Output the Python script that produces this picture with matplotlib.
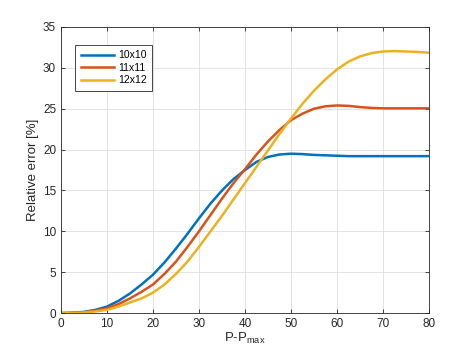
import numpy as np
import matplotlib
matplotlib.use('Agg')
import matplotlib.pyplot as plt

plt.rcParams['font.family'] = ['Liberation Sans', 'DejaVu Sans']
plt.rcParams['mathtext.default'] = 'regular'

# P-P_max values
p_vals = [0, 2.5, 5, 7.5, 10, 12.5, 15, 17.5, 20, 22.5, 25, 27.5, 30, 32.5, 35, 37.5,
          40, 42.5, 45, 47.5, 50, 52.5, 55, 57.5, 60, 62.5, 65, 67.5, 70, 72.5, 75, 77.5, 80]

err_10 = [0, 0.05, 0.15, 0.4, 0.8, 1.5, 2.4, 3.5, 4.7, 6.2, 7.9, 9.7, 11.6, 13.4, 15.0, 16.4,
          17.5, 18.5, 19.1, 19.4, 19.5, 19.45, 19.35, 19.3, 19.25, 19.2, 19.2, 19.2, 19.2,
          19.2, 19.2, 19.2, 19.2]
err_11 = [0, 0.03, 0.1, 0.3, 0.6, 1.1, 1.8, 2.6, 3.5, 4.8, 6.3, 8.1, 10.0, 12.0, 14.0, 15.9,
          17.6, 19.4, 21.0, 22.4, 23.6, 24.4, 25.0, 25.3, 25.4, 25.35, 25.2, 25.1, 25.05,
          25.05, 25.05, 25.05, 25.05]
err_12 = [0, 0.02, 0.07, 0.2, 0.4, 0.8, 1.3, 1.8, 2.5, 3.5, 4.8, 6.3, 8.1, 10.0, 11.9, 13.9,
          15.9, 17.9, 19.9, 21.9, 23.8, 25.6, 27.2, 28.6, 29.8, 30.75, 31.4, 31.8, 32.0,
          32.05, 32.0, 31.95, 31.85]

labels = ['10x10', '11x11', '12x12']
colors = ['#0072BD', '#D95319', '#EDB120']

fig = plt.figure(figsize=(4.74, 3.55), dpi=100)
ax = fig.add_axes([0.1287, 0.118, 0.7763, 0.806])

for y, lab, c in zip([err_10, err_11, err_12], labels, colors):
    ax.plot(p_vals, y, color=c, linewidth=1.8, label=lab)

ax.set_xlim(0, 80)
ax.set_ylim(0, 35)
ax.set_xticks(np.arange(0, 81, 10))
ax.set_yticks(np.arange(0, 36, 5))
ax.grid(True, color='#dedede', linewidth=0.6)
ax.set_axisbelow(True)
ax.tick_params(direction='in', top=True, right=True, length=3, width=0.6,
               colors='#262626', labelsize=8.5)
for s in ax.spines.values():
    s.set_color('#262626')
    s.set_linewidth(0.6)

ax.set_xlabel('P-P$_{max}$', fontsize=9.5, color='#262626', labelpad=1)
ax.set_ylabel('Relative error [%]', fontsize=9.5, color='#262626', labelpad=3)

leg = ax.legend(loc='upper left', bbox_to_anchor=(0.025, 0.955), fontsize=7.5,
                frameon=True, fancybox=False, edgecolor='#262626', framealpha=1,
                handlelength=3.2, borderpad=0.5, labelspacing=0.25, handletextpad=0.4)
leg.get_frame().set_linewidth(0.6)

plt.savefig('out.png', dpi=100)
